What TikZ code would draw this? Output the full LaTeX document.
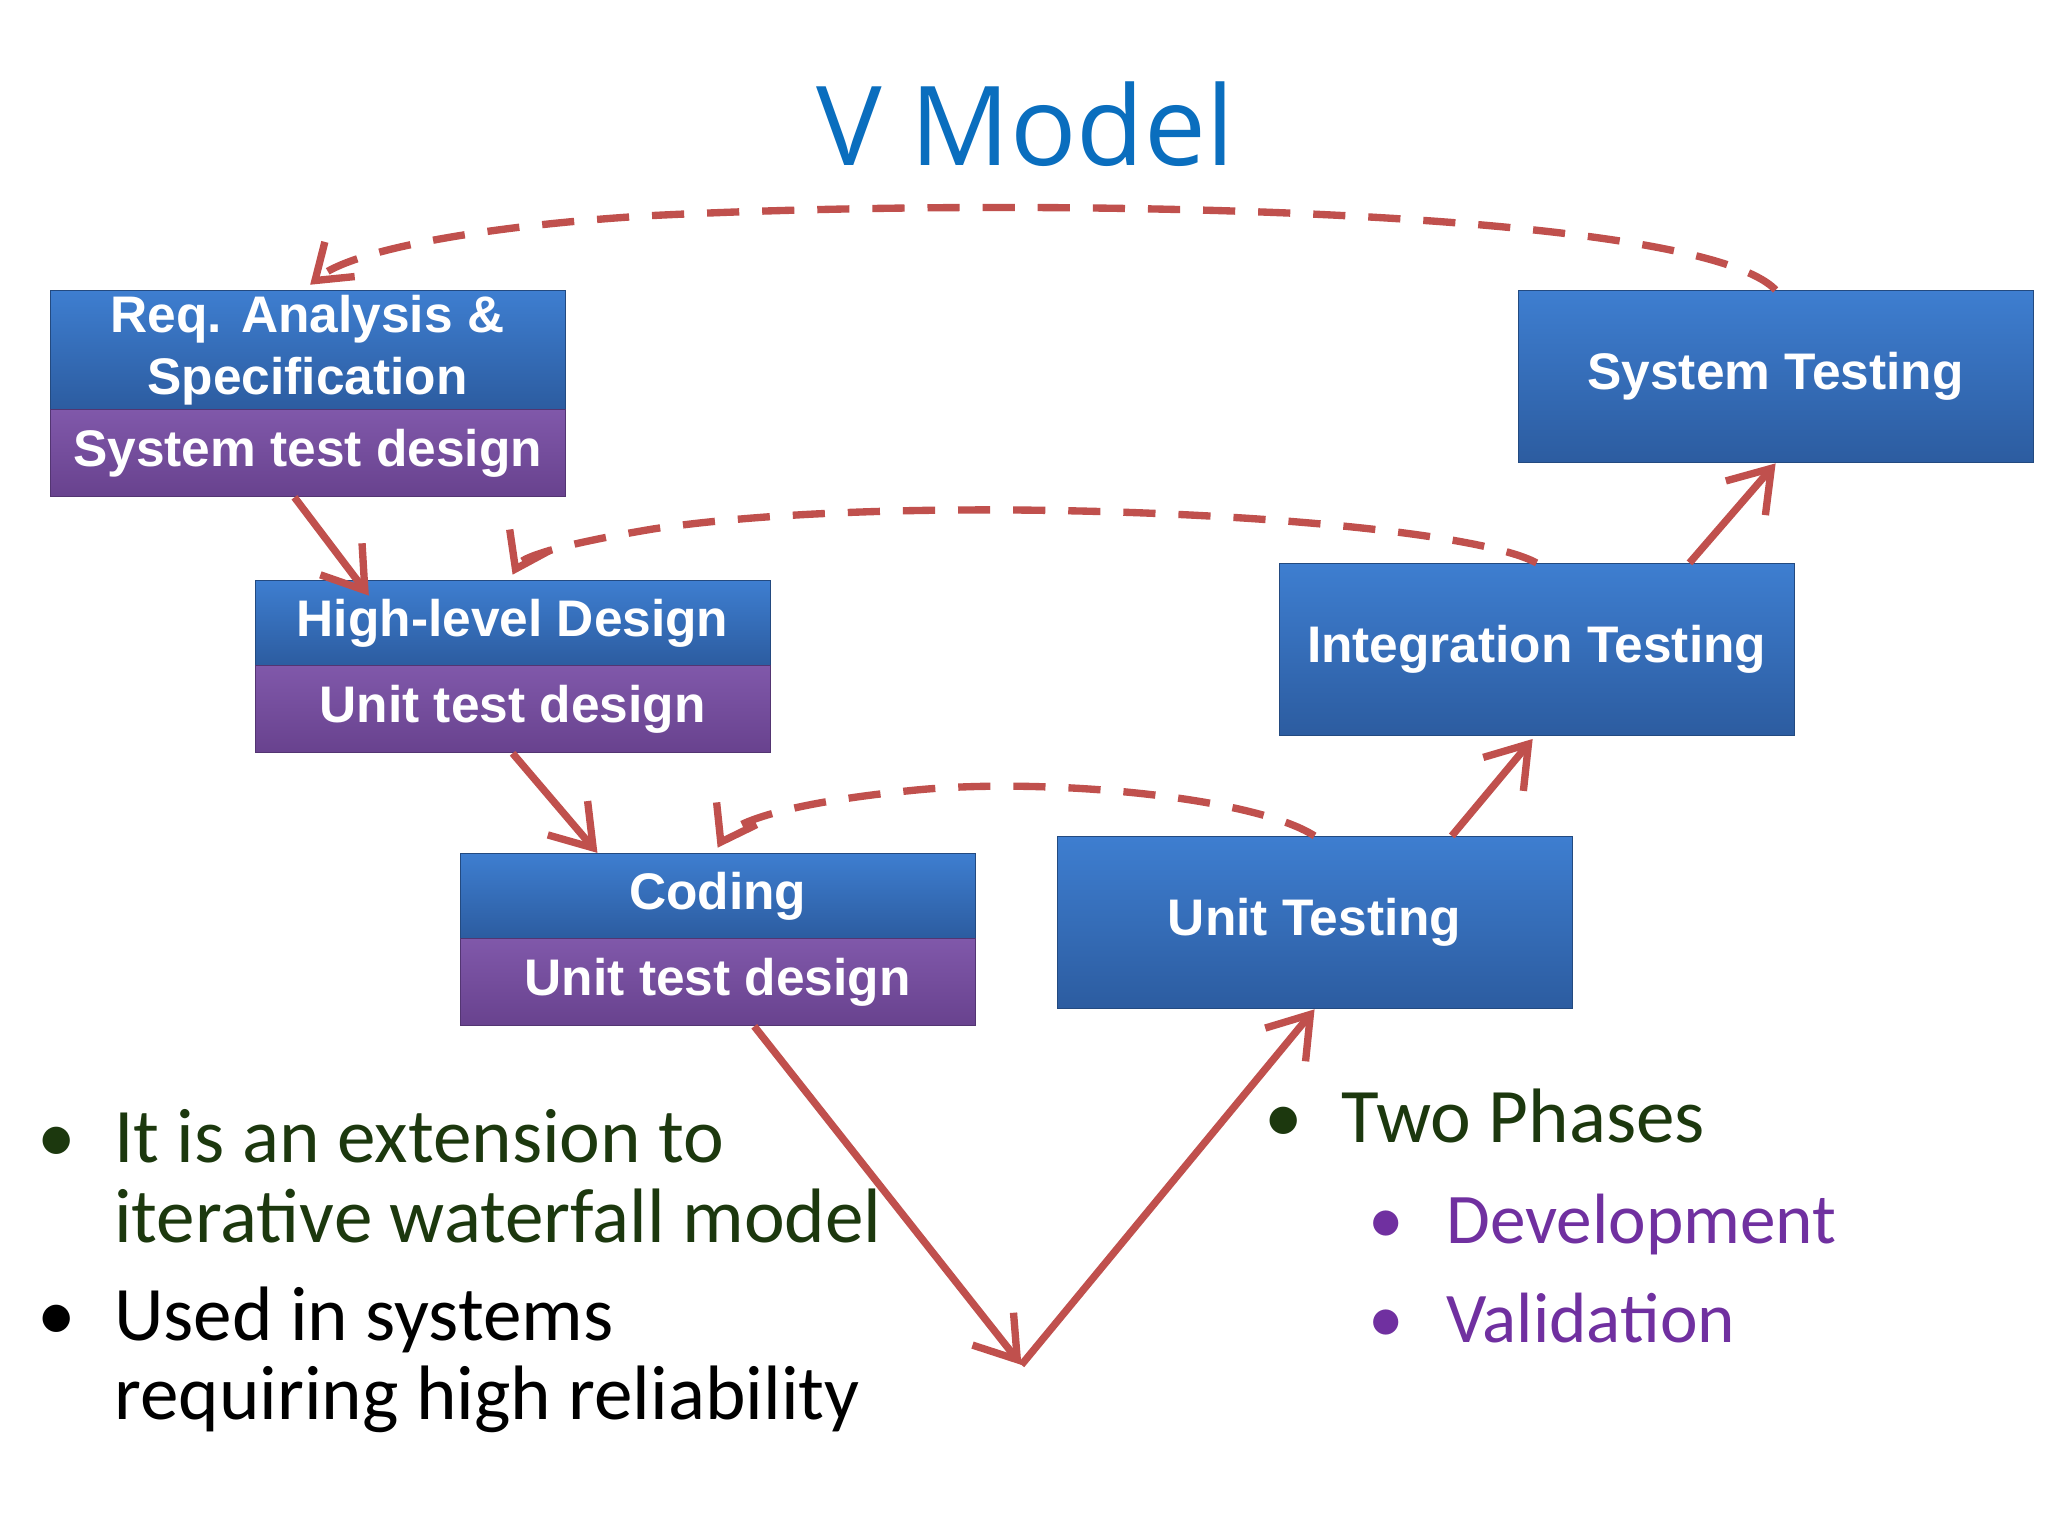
\documentclass[tikz,border=0pt]{standalone}
\usepackage{fontspec}
\setmainfont{Carlito}
\newfontfamily\boxfont{Liberation Sans}
\newfontfamily\titlefont{Open Sans}
\usetikzlibrary{arrows.meta}
\definecolor{arrred}{RGB}{192,80,77}
\definecolor{btop}{RGB}{62,126,208}
\definecolor{bbot}{RGB}{44,92,160}
\definecolor{ptop}{RGB}{128,88,170}
\definecolor{pbot}{RGB}{104,66,142}
\definecolor{titleblue}{RGB}{10,110,190}
\definecolor{dgreen}{RGB}{28,56,14}
\definecolor{vpurple}{RGB}{112,48,160}
\tikzset{
  box/.style = {draw=bbot!80!black, very thin, top color=btop, bottom color=bbot,
    text=white, font=\boxfont\bfseries\fontsize{11.2}{13.5}\selectfont, align=center,
    minimum width=3.94cm, inner sep=0pt, anchor=north west},
  pbox/.style = {box, top color=ptop, bottom color=pbot, draw=pbot!80!black},
  flow/.style = {arrred, line width=1.6pt, -{Straight Barb[length=3mm,width=4mm]}},
  back/.style = {arrred, line width=1.6pt, dash pattern=on 7pt off 5pt,
    -{Straight Barb[length=2.5mm,width=3.5mm]}},
  bul/.style = {anchor=base west, font=\fontsize{16.8}{20}\selectfont},
  sub/.style = {anchor=base west, font=\fontsize{15.5}{18}\selectfont, text=vpurple}
}
\begin{document}
\begin{tikzpicture}[x=0.01cm,y=-0.01cm]
\useasboundingbox[fill=white] (0,0) rectangle (1568,1176);
\node[font=\titlefont\fontsize{24}{26}\selectfont, text=titleblue] (title) at (785,95) {V Model};

% left side
\node[box, minimum height=0.91cm] (req) at (38,222) {Req. Analysis \&\\Specification};
\node[pbox, minimum height=0.67cm] (reqt) at (38,313) {System test design};
\node[box, minimum height=0.65cm] (hld) at (195,444) {High-level Design};
\node[pbox, minimum height=0.67cm] (hldt) at (195,509) {Unit test design};
\node[box, minimum height=0.65cm] (cod) at (352,653) {Coding};
\node[pbox, minimum height=0.67cm] (codt) at (352,718) {Unit test design};
% right side
\node[box, minimum height=1.32cm] (ut) at (809,640) {Unit Testing};
\node[box, minimum height=1.32cm] (it) at (979,431) {Integration Testing};
\node[box, minimum height=1.32cm] (st) at (1162,222) {System Testing};

\coordinate (v) at (782,1045);
\draw[flow] ([xshift=-0.1cm]reqt.south) -- ([xshift=-1.1cm,yshift=-0.12cm]hld.north);
\draw[flow] (hldt.south) -- ([xshift=-0.92cm]cod.north);
\draw[flow] ([xshift=0.28cm]codt.south) -- (v);
\draw[flow] (v) -- (ut.south);
\draw[flow] ([xshift=1.05cm]ut.north) -- ([xshift=-0.03cm,yshift=-0.02cm]it.south);
\draw[flow] ([xshift=1.17cm]it.north) -- ([xshift=0cm]st.south);

\draw[back] (st.north) .. controls (1300,160) and (800,150) .. (500,165) .. controls (380,172) and (270,190) .. ([xshift=0.02cm,yshift=0.04cm]req.north);
\draw[back] (it.north) .. controls (1110,395) and (700,375) .. (500,405) .. controls (440,415) and (400,425) .. ([yshift=0.04cm]hld.north);
\draw[back] (ut.north) .. controls (960,610) and (800,595) .. (700,605) .. controls (600,615) and (560,630) .. ([yshift=0.04cm]cod.north);

% bullets
\node[bul, text=dgreen] (b1) at (75,890) {It is an extension to};
\node[bul, text=dgreen] (b1b) at (75,951) {iterative waterfall model};
\node[bul] (b2) at (75,1026) {Used in systems};
\node[bul] (b2b) at (75,1087) {requiring high reliability};
\node[bul, text=dgreen] (d1) at (16,890) {•};
\node[bul] (d2) at (16,1026) {•};
\node[bul, text=dgreen] (p) at (1015,875) {Two Phases};
\node[bul, text=dgreen] (d3) at (956,875) {•};
\node[sub] (s1) at (1095,952) {Development};
\node[sub] (s2) at (1095,1028) {Validation};
\node[sub] (d4) at (1035,952) {•};
\node[sub] (d5) at (1035,1028) {•};
\end{tikzpicture}
\end{document}
